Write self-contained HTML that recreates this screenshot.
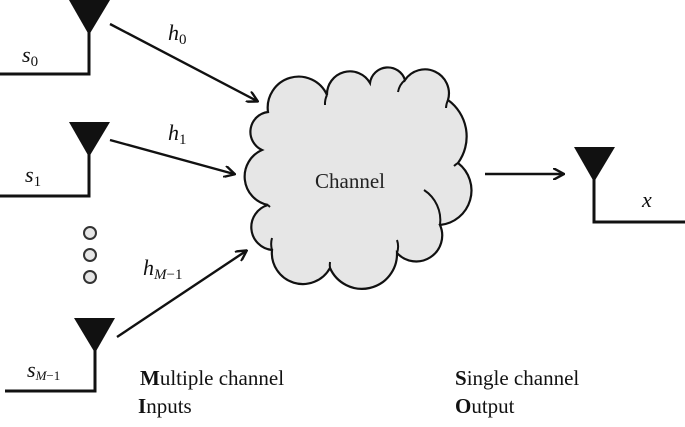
<!DOCTYPE html>
<html><head><meta charset="utf-8"><style>
html,body{margin:0;padding:0;background:#fff;}
svg text{font-family:"Liberation Serif",serif;}
</style></head><body>
<svg width="685" height="422" viewBox="0 0 685 422" xmlns="http://www.w3.org/2000/svg">
<defs><marker id="a" markerWidth="12" markerHeight="12" refX="10" refY="6" orient="auto" markerUnits="userSpaceOnUse" viewBox="0 0 12 12"><path d="M0,0 L11,6 L0,12" fill="none" stroke="#111" stroke-width="2.4"/></marker></defs>
<g stroke="#111" stroke-width="3" fill="none">
<polyline points="0,74 89,74 89,30"/>
<polyline points="0,196 89,196 89,152"/>
<polyline points="5,391 95,391 95,348"/>
<polyline points="685,222 594,222 594,178"/>
</g>
<g fill="#111">
<polygon points="69,0 110,0 89,35"/>
<polygon points="69,122 110,122 89,157"/>
<polygon points="74,318 115,318 95,353"/>
<polygon points="574,147 615,147 594,182"/>
</g>
<g stroke="#111" stroke-width="2.4" fill="none" marker-end="url(#a)">
<line x1="110" y1="24" x2="257" y2="101"/>
<line x1="110" y1="140" x2="234" y2="174"/>
<line x1="117" y1="337" x2="246" y2="251"/>
<line x1="485" y1="174" x2="563" y2="174"/>
</g>
<g stroke="#333" stroke-width="2" fill="#e6e6e6">
<circle cx="90" cy="233" r="6"/><circle cx="90" cy="255" r="6"/><circle cx="90" cy="277" r="6"/>
</g>
<path d="M268,112 A31,31 0 0 1 327,95 A23,23 0 0 1 370,83 A18,18 0 0 1 405,80 A24,24 0 0 1 448,100 A45,45 0 0 1 458,163 A34.7,34.7 0 0 1 440,225 A26,26 0 0 1 397,253 A35,35 0 0 1 330,268 A31,31 0 0 1 272,250 A23,23 0 0 1 268,205 A29,29 0 0 1 262,150 A20,20 0 0 1 268,112 Z" fill="#e6e6e6" stroke="#111" stroke-width="2.2"/>
<g stroke="#111" stroke-width="2" fill="none">
<path d="M327,95 A20,20 0 0 0 325,105"/>
<path d="M405,80 A20,20 0 0 0 398,92"/>
<path d="M448,100 A20,20 0 0 0 446,108"/>
<path d="M458,163 A20,20 0 0 0 454,166"/>
<path d="M424,190 A36,36 0 0 1 440,225"/>
<path d="M397,253 A20,20 0 0 0 397,240"/>
<path d="M330,268 A20,20 0 0 1 330,262"/>
<path d="M272,250 A22,22 0 0 1 272,238"/>
<path d="M268,205 A22,22 0 0 0 270,207"/>
</g>
<text x="350" y="188" font-size="21" text-anchor="middle" fill="#222">Channel</text>
<g font-size="22" font-style="italic" fill="#111">
<text x="22" y="62">s<tspan font-size="15" font-style="normal" dy="4">0</tspan></text>
<text x="25" y="182">s<tspan font-size="15" font-style="normal" dy="4">1</tspan></text>
<text x="27" y="377">s<tspan font-size="13" dy="3">M</tspan><tspan font-size="13" font-style="normal">−1</tspan></text>
<text x="168" y="40">h<tspan font-size="15" font-style="normal" dy="4">0</tspan></text>
<text x="168" y="140">h<tspan font-size="15" font-style="normal" dy="4">1</tspan></text>
<text x="143" y="275">h<tspan font-size="15" dy="4">M</tspan><tspan font-size="15" font-style="normal">−1</tspan></text>
<text x="642" y="207">x</text>
</g>
<g font-size="21" fill="#111">
<text x="140" y="385"><tspan font-weight="bold">M</tspan>ultiple channel</text>
<text x="138" y="413"><tspan font-weight="bold">I</tspan>nputs</text>
<text x="455" y="385"><tspan font-weight="bold">S</tspan>ingle channel</text>
<text x="455" y="413"><tspan font-weight="bold">O</tspan>utput</text>
</g>
</svg>
</body></html>
